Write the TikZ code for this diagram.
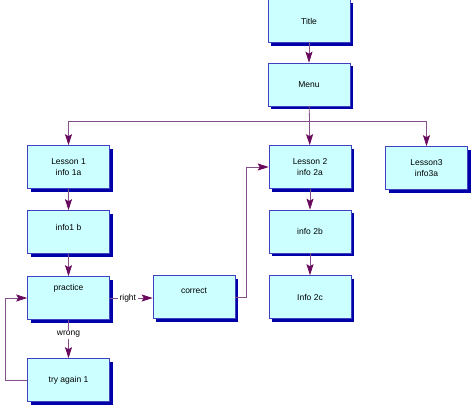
\documentclass[tikz,border=0pt]{standalone}
\usepackage{fontspec}
\setmainfont{Liberation Sans}
\usetikzlibrary{arrows.meta,shadows,positioning}
\definecolor{boxfill}{HTML}{CCFFFF}
\definecolor{boxline}{HTML}{3F3FBF}
\definecolor{shadowblue}{HTML}{0000A8}
\definecolor{arrline}{HTML}{84508A}
\definecolor{arrhead}{HTML}{6A0A5E}
\tikzset{
  box/.style={draw=boxline, line width=0.6pt, fill=boxfill, minimum width=82pt, minimum height=43pt,
    inner sep=0pt, align=center, font=\fontsize{8.5}{11}\selectfont,
    drop shadow={shadow xshift=3pt, shadow yshift=-3pt, fill=shadowblue, opacity=1}},
  arr/.style={draw=arrline, line width=0.8pt, -{Stealth[length=11pt,width=7pt,inset=2pt,fill=arrhead,color=arrhead]}},
  lbl/.style={fill=white, inner sep=1.5pt, font=\fontsize{8.5}{10}\selectfont}
}
\begin{document}
\begin{tikzpicture}[x=1pt,y=-1pt]
\useasboundingbox (0,0) rectangle (474,408);
\node[box] (title) at (309,21) {Title};
\node[box] (menu) at (309,84.5) {Menu};
\node[box] (l1) at (68.5,167) {Lesson 1\\info 1a};
\node[box] (l2) at (310,167) {Lesson 2\\info 2a};
\node[box] (l3) at (426.5,168) {Lesson3\\info3a};
\node[box] (i1b) at (68.5,232) {};
\node[font=\fontsize{8.5}{11}\selectfont] (i1bt) at (68.5,227) {info1 b};
\node[box] (i2b) at (310,231.5) {info 2b};
\node[box] (pr) at (68.5,298) {};
\node[font=\fontsize{8.5}{11}\selectfont] (prt) at (68.5,288) {practice};
\node[box] (co) at (194,297) {};
\node[font=\fontsize{8.5}{11}\selectfont] (cot) at (194,291) {correct};
\node[box] (i2c) at (310,297) {Info 2c};
\node[box] (try) at (68.5,380) {try again 1};
\coordinate (bus) at (309,121);
\draw[arr] (title) -- (menu);
\draw[arr] (menu) -- (l2);
\draw[arr] (bus) -| (l1.north);
\draw[arr] (bus) -| (l3.north);
\draw[arr] (l1) -- (i1b);
\draw[arr] (i1b) -- (pr);
\draw[arr] (l2) -- (i2b);
\draw[arr] (i2b) -- (i2c);
\draw[arr] (pr.east) -- node[lbl, pos=0.42] {right} (pr.east -| co.west);
\draw[arr] (pr) -- node[lbl, pos=0.38] {wrong} (try);
\draw[arr] (try.west) -- ++(-22,0) |- (pr.west);
\draw[arr] (co.east) -- ++(11,0) |- (l2.west);
\end{tikzpicture}
\end{document}
